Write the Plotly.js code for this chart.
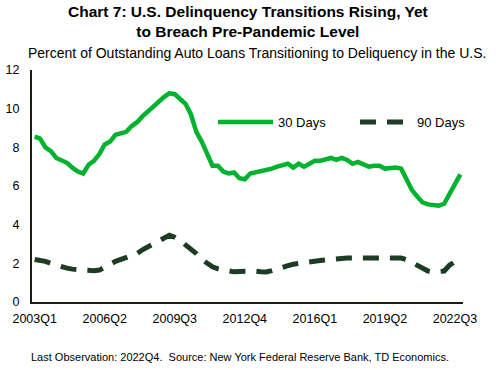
<!DOCTYPE html>
<html>
<head>
<meta charset="utf-8">
<script src="https://cdn.plot.ly/plotly-3.0.1.min.js"></script>
<style>html,body{margin:0;padding:0;background:#fff;}#chart{width:496px;height:370px;}</style>
</head>
<body>
<div id="chart"></div>
<script>
const quarters = [
 "2003Q1","2003Q2","2003Q3","2003Q4","2004Q1","2004Q2","2004Q3","2004Q4",
 "2005Q1","2005Q2","2005Q3","2005Q4","2006Q1","2006Q2","2006Q3","2006Q4",
 "2007Q1","2007Q2","2007Q3","2007Q4","2008Q1","2008Q2","2008Q3","2008Q4",
 "2009Q1","2009Q2","2009Q3","2009Q4","2010Q1","2010Q2","2010Q3","2010Q4",
 "2011Q1","2011Q2","2011Q3","2011Q4","2012Q1","2012Q2","2012Q3","2012Q4",
 "2013Q1","2013Q2","2013Q3","2013Q4","2014Q1","2014Q2","2014Q3","2014Q4",
 "2015Q1","2015Q2","2015Q3","2015Q4","2016Q1","2016Q2","2016Q3","2016Q4",
 "2017Q1","2017Q2","2017Q3","2017Q4","2018Q1","2018Q2","2018Q3","2018Q4",
 "2019Q1","2019Q2","2019Q3","2019Q4","2020Q1","2020Q2","2020Q3","2020Q4",
 "2021Q1","2021Q2","2021Q3","2021Q4","2022Q1","2022Q2","2022Q3","2022Q4"
];
const days30 = [
 8.55,8.45,8.0,7.8,7.45,7.3,7.2,6.95,6.75,6.65,7.1,7.3,7.65,8.15,8.3,8.65,
 8.7,8.8,9.1,9.3,9.6,9.85,10.1,10.4,10.6,10.8,10.75,10.5,10.25,9.7,8.8,8.3,
 7.7,7.05,7.05,6.75,6.65,6.7,6.4,6.35,6.65,6.7,6.8,6.85,6.9,7.0,7.1,7.15,
 6.95,7.15,7.0,7.15,7.3,7.3,7.35,7.45,7.35,7.45,7.35,7.15,7.25,7.15,7.0,7.05,
 7.05,6.9,6.95,6.95,6.9,6.4,5.8,5.45,5.15,5.05,5.0,4.98,5.08,5.6,6.15,6.6
];
const days90 = [
 2.2,2.18,2.1,2.0,1.9,1.82,1.75,1.7,1.68,1.63,1.62,1.62,1.65,1.8,1.98,2.1,
 2.2,2.3,2.36,2.5,2.7,2.85,3.0,3.2,3.35,3.45,3.35,3.2,2.95,2.75,2.5,2.2,
 2.0,1.82,1.72,1.65,1.6,1.56,1.58,1.6,1.62,1.6,1.57,1.55,1.62,1.72,1.82,1.88,
 1.95,2.0,2.03,2.08,2.12,2.15,2.18,2.22,2.25,2.25,2.27,2.27,2.27,2.28,2.27,2.28,
 2.3,2.3,2.31,2.3,2.27,2.2,2.05,1.85,1.7,1.6,1.55,1.55,1.6,1.9,2.05,2.27
];
const xTicks = ["2003Q1","2006Q2","2009Q3","2012Q4","2016Q1","2019Q2","2022Q3"];
const yTicks = [0,2,4,6,8,10,12];

const FONT = "Liberation Sans, Arial, sans-serif";
const traces = [
  {x: quarters, y: days30, name: "30 Days", type: "scatter", mode: "lines",
   legend: "legend", line: {color: "#00B22D", width: 4.5}},
  {x: quarters, y: days90, name: "90 Days", type: "scatter", mode: "lines",
   legend: "legend2", line: {color: "#1C3D24", width: 5, dash: "16px,11px"}}
];
const legendBase = {orientation: "h", y: 0.776, xanchor: "left", yanchor: "middle",
  bgcolor: "rgba(0,0,0,0)", font: {size: 13, family: FONT, color: "#000"}};
const layout = {
  width: 496, height: 370,
  margin: {l: 32, r: 33, t: 70, b: 68},
  paper_bgcolor: "#fff", plot_bgcolor: "#fff",
  font: {family: FONT, color: "#000", size: 12},
  showlegend: true,
  legend: Object.assign({}, legendBase, {x: 0.42, itemwidth: 55}),
  legend2: Object.assign({}, legendBase, {x: 0.7494, itemwidth: 52}),
  xaxis: {type: "category", range: [-0.5, 79.5], tickmode: "array",
          tickvals: xTicks, ticktext: xTicks, showgrid: false, zeroline: false,
          showline: true, linecolor: "#1a1f14", linewidth: 2, ticks: "",
          ticklabelstandoff: 4, tickangle: 0, tickfont: {size: 12.5}},
  yaxis: {range: [0, 12], tickmode: "array", tickvals: yTicks, showgrid: false,
          zeroline: false, showline: true, linecolor: "#1a1f14", linewidth: 2,
          ticks: "", ticklabelstandoff: 8, tickfont: {size: 12.5}},
  annotations: [
    {text: "<b>Chart 7: U.S. Delinquency Transitions Rising, Yet<br>to Breach Pre-Pandemic Level</b>",
     xref: "paper", yref: "paper", x: 0.5, y: 1, yshift: 69, xanchor: "center", yanchor: "top",
     showarrow: false, font: {size: 15.5, family: FONT, color: "#000"}},
    {text: "Percent of Outstanding Auto Loans Transitioning to Deliquency in the U.S.",
     xref: "paper", yref: "paper", x: 0.5, y: 1, yshift: 17, xshift: 9, xanchor: "center", yanchor: "middle",
     showarrow: false, font: {size: 14, family: FONT, color: "#000"}},
    {text: "Last Observation: 2022Q4.  Source: New York Federal Reserve Bank, TD Economics.",
     xref: "paper", yref: "paper", x: 0, y: 0, yshift: -55, xshift: -3, xanchor: "left", yanchor: "middle",
     showarrow: false, font: {size: 11, family: FONT, color: "#000"}}
  ]
};
Plotly.newPlot("chart", traces, layout, {displayModeBar: false, staticPlot: true});
</script>
</body>
</html>
